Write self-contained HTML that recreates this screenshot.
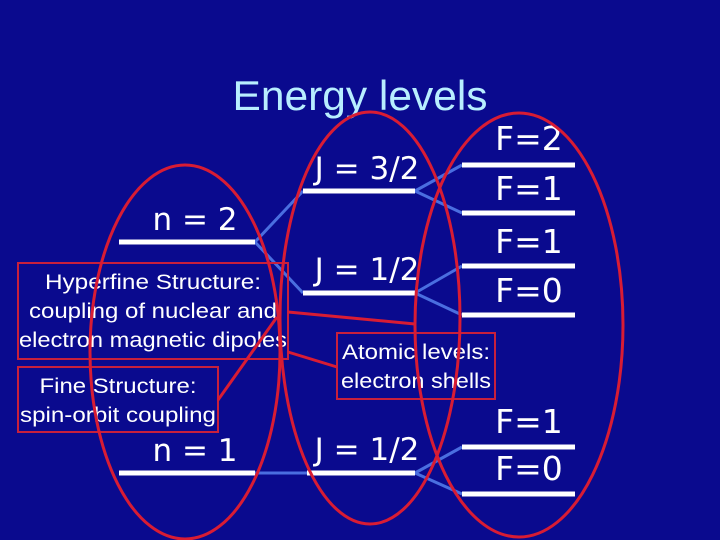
<!DOCTYPE html>
<html><head><meta charset="utf-8"><style>
html,body{margin:0;padding:0;background:#0a0a8e;}
svg{display:block;font-family:"DejaVu Sans","Liberation Sans",sans-serif;}
</style></head><body>
<svg width="720" height="540" viewBox="0 0 720 540">
<rect width="720" height="540" fill="#0a0a8e"/>
<text x="360" y="110" font-size="42" fill="#b8eeff" text-anchor="middle" font-family="Liberation Sans, sans-serif" textLength="255" lengthAdjust="spacingAndGlyphs">Energy levels</text>
<g stroke="#4a6ee0" stroke-width="3" fill="none">
<path d="M255 242 L303 191 M255 242 L303 293"/>
<path d="M415 191 L462 165 M415 191 L462 213"/>
<path d="M415 293 L462 266 M415 293 L462 315"/>
<path d="M255 473 L307 473"/>
<path d="M415 473 L462 447 M415 473 L462 494"/>
</g>
<g stroke="#fff" stroke-width="5">
<path d="M119 242 H255 M119 473 H255"/>
<path d="M303 191 H415 M303 293 H415 M307 473 H415"/>
<path d="M462 165 H575 M462 213 H575 M462 266 H575 M462 315 H575 M462 447 H575 M462 494 H575"/>
</g>
<g fill="#fff" font-size="31">
<text x="195" y="230" text-anchor="middle">n = 2</text>
<text x="195" y="461" text-anchor="middle">n = 1</text>
<text x="367" y="179" text-anchor="middle">J = 3/2</text>
<text x="367" y="280" text-anchor="middle">J = 1/2</text>
<text x="367" y="460" text-anchor="middle">J = 1/2</text>
</g>
<g fill="#fff" font-size="33" text-anchor="middle">
<text x="529" y="150">F=2</text>
<text x="529" y="200">F=1</text>
<text x="529" y="253">F=1</text>
<text x="529" y="302">F=0</text>
<text x="529" y="433">F=1</text>
<text x="529" y="480">F=0</text>
</g>
<g stroke="#c8203c" stroke-width="2" fill="none">
<rect x="18" y="263" width="270" height="96"/>
<rect x="18" y="367" width="200" height="65"/>
<rect x="337" y="333" width="158" height="66"/>
</g>
<g fill="#fff" font-size="21" text-anchor="middle" font-family="Liberation Sans, sans-serif" lengthAdjust="spacingAndGlyphs">
<text x="153" y="289" textLength="216" lengthAdjust="spacingAndGlyphs">Hyperfine Structure:</text>
<text x="153" y="318" textLength="248" lengthAdjust="spacingAndGlyphs">coupling of nuclear and</text>
<text x="153" y="347" textLength="268" lengthAdjust="spacingAndGlyphs">electron magnetic dipoles</text>
<text x="118" y="393" textLength="157" lengthAdjust="spacingAndGlyphs">Fine Structure:</text>
<text x="118" y="422" textLength="196" lengthAdjust="spacingAndGlyphs">spin-orbit coupling</text>
<text x="416" y="359" textLength="148" lengthAdjust="spacingAndGlyphs">Atomic levels:</text>
<text x="416" y="388" textLength="150" lengthAdjust="spacingAndGlyphs">electron shells</text>
</g>
<g stroke="#d81c34" stroke-width="3" fill="none">
<ellipse cx="185" cy="352" rx="95" ry="187"/>
<ellipse cx="370" cy="318" rx="90" ry="206"/>
<ellipse cx="519" cy="325" rx="104" ry="212"/>
<path d="M218 400 L277 317"/>
<path d="M288 312 L415 324"/>
<path d="M288 352 L337 367"/>
</g>
</svg>
</body></html>
